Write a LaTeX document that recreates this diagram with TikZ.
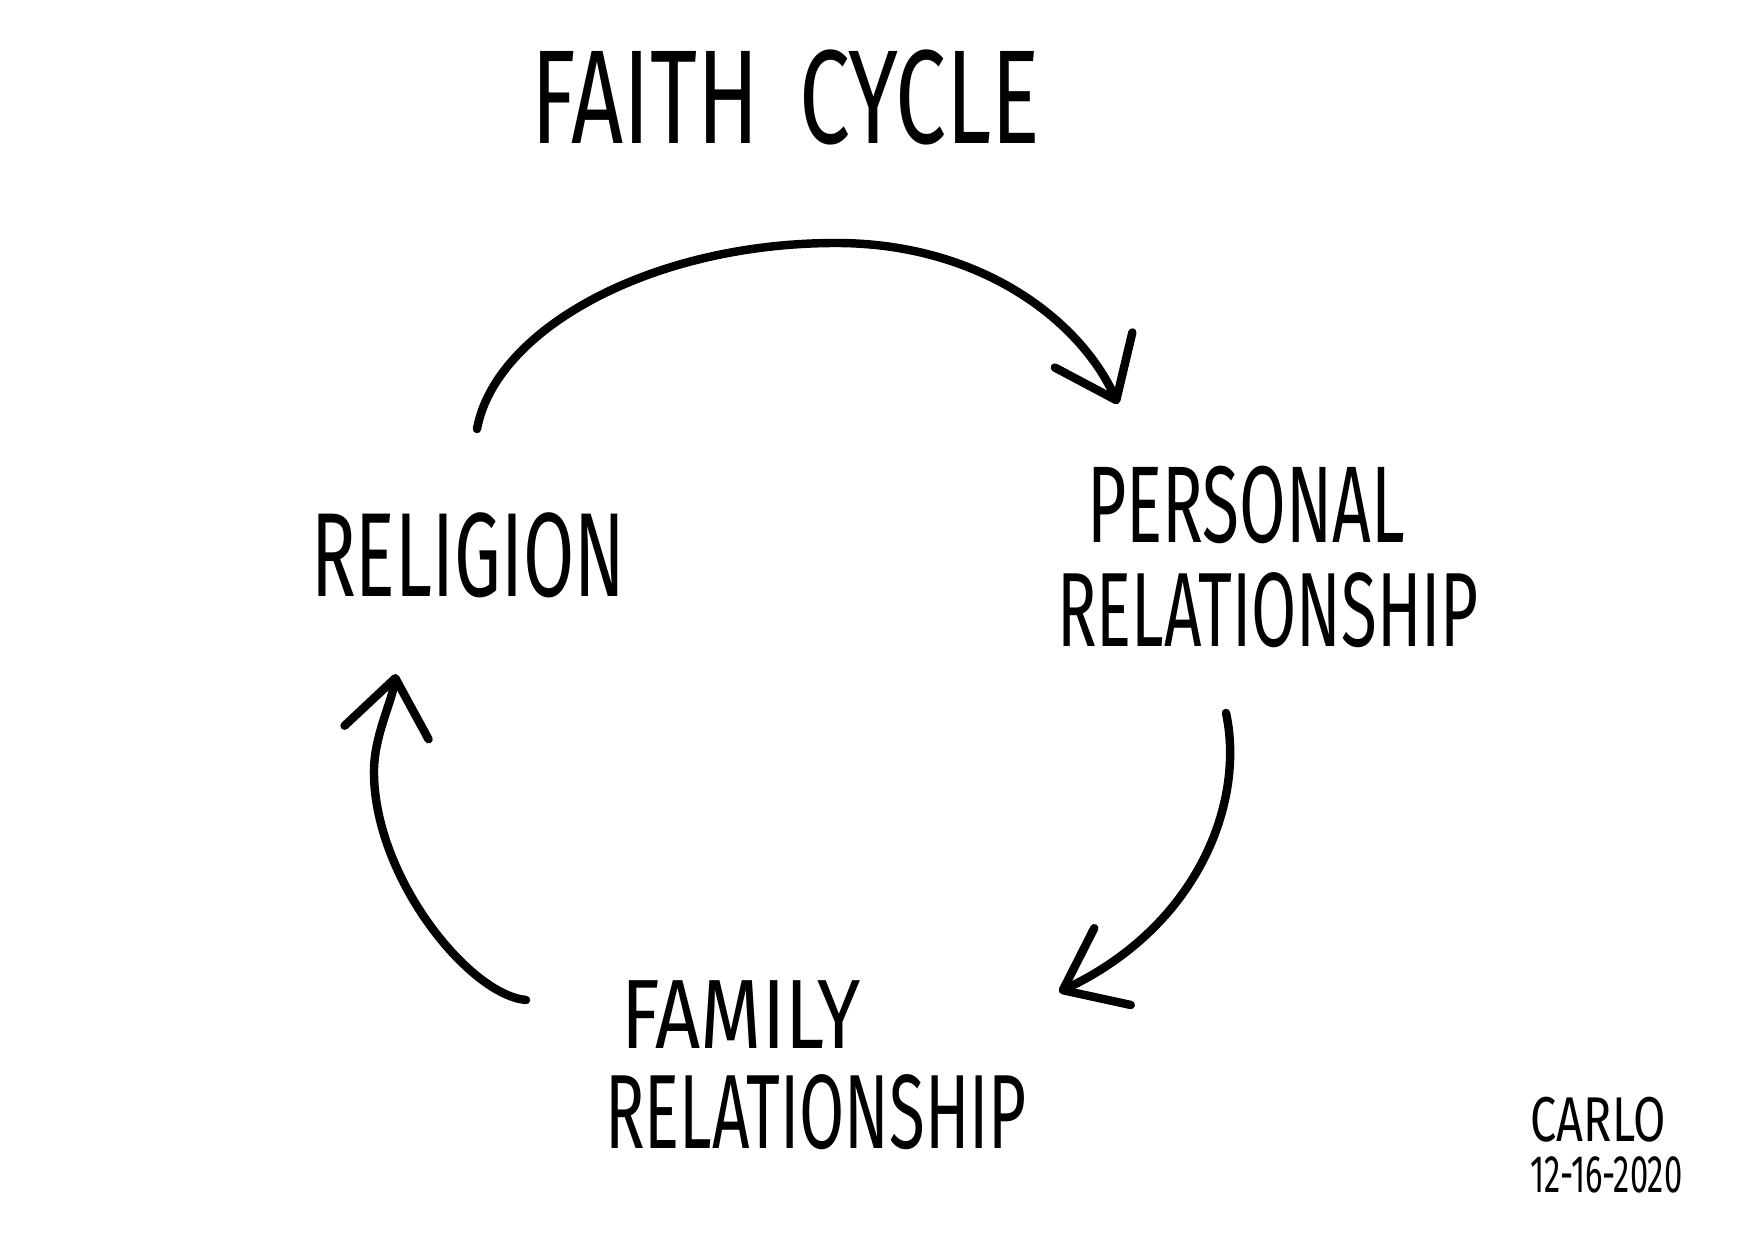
\documentclass[tikz,border=0pt]{standalone}
\usepackage{fontspec}
\newfontfamily\handfont[FakeStretch=0.62]{Fira Sans}
\newfontfamily\handtitle[FakeStretch=0.68]{Fira Sans}
\newfontfamily\handsig[FakeStretch=0.74]{Fira Sans}
\newfontfamily\handwide[FakeStretch=0.8]{Fira Sans}
\usetikzlibrary{arrows.meta}

\begin{document}
\begin{tikzpicture}[x=0.01cm,y=-0.01cm,
  lbl/.style 2 args={font=#2\fontsize{#1}{#1}\selectfont,inner sep=0pt},
  cyc/.style={-{Straight Barb[length=5.5mm,width=8.5mm,round]},line width=2.4pt,line cap=round,line join=round}]
\useasboundingbox (0,0) rectangle (1748,1240);
\node[lbl={38}{\handtitle}] (title) at (786,97) {FAITH\hspace{0.3em}CYCLE};
\node[lbl={34}{\handfont}] (relig) at (468,555) {RELIGION};
\node[lbl={31}{\handfont}] (pers) at (1246,505) {PERSONAL};
\node[lbl={30}{\handfont}] (persrel) at (1268,610) {RELATIONSHIP};
\node[lbl={28}{\handwide}] (fam) at (741,1015) {FAMILY};
\node[lbl={30}{\handfont}] (famrel) at (816,1112) {RELATIONSHIP};
\node[lbl={18}{\handsig},anchor=west] (sig) at (1530,1120) {CARLO};
\node[lbl={15}{\handfont},anchor=west] (date) at (1530,1175) {12-16-2020};
\coordinate (topS) at (477,429);
\coordinate (topE) at (1118,404);
\coordinate (rgtS) at (1226,713);
\coordinate (rgtE) at (1059,992);
\coordinate (lftS) at (526,1000);
\coordinate (lftE) at (396,674);
\draw[cyc] (topS) .. controls (495,330) and (650,243) .. (836,243) .. controls (980,243) and (1080,320) .. (topE);
\draw[cyc] (rgtS) .. controls (1245,800) and (1200,925) .. (rgtE);
\draw[cyc] (lftS) .. controls (470,995) and (376,880) .. (374,775) .. controls (373,738) and (391,705) .. (lftE);
\end{tikzpicture}
\end{document}
